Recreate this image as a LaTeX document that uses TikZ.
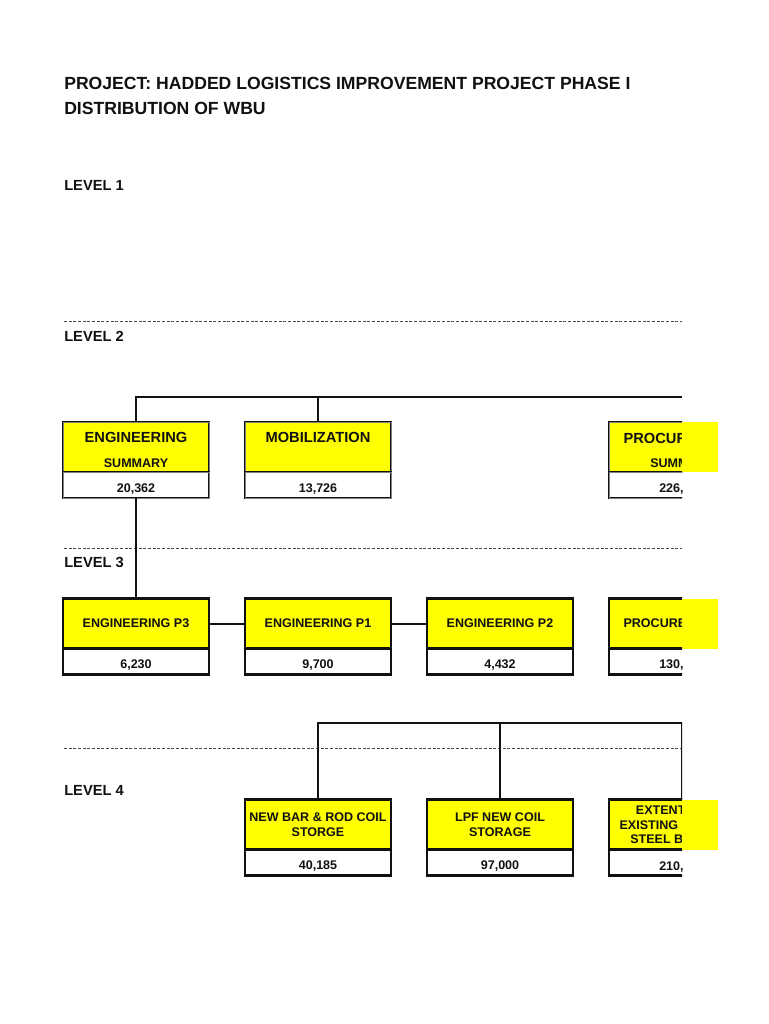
\documentclass[tikz,border=0pt]{standalone}
\usepackage{fontspec}
\setmainfont{Liberation Sans}
\usetikzlibrary{positioning,calc}
\definecolor{ink}{HTML}{111111}
\definecolor{wbuyellow}{HTML}{FFFF00}
\definecolor{rule}{HTML}{4A4A4A}

\begin{document}
\begin{tikzpicture}[x=0.75pt, y=-0.75pt, text=ink,
  ttl/.style={font=\fontsize{13.2}{16}\selectfont\bfseries, anchor=base west, inner sep=0pt},
  lvl/.style={font=\fontsize{11}{13}\selectfont\bfseries, anchor=base west, inner sep=0pt},
  sep/.style={draw=rule, line width=0.55pt, dash pattern=on 2.2pt off 1.3pt},
  link/.style={draw=ink, line width=1.5pt},
  l2box/.style={draw=ink, line width=0.6pt, double=black!50, double distance=0.5pt, outer sep=0pt, inner sep=0pt, minimum width=109.5pt},
  l2top/.style={l2box, fill=wbuyellow, minimum height=37.5pt, align=center, text height=30.6pt, text depth=0pt, font=\fontsize{11}{13}\selectfont\bfseries},
  l2num/.style={l2box, fill=white, minimum height=19.5pt, text height=10.5pt, text depth=0pt, font=\fontsize{9.4}{11}\selectfont\bfseries},
  wbox/.style={draw=ink, line width=1.6pt, outer sep=0pt, inner sep=0pt, minimum width=109.5pt},
  wtop/.style={wbox, fill=wbuyellow, minimum height=37.5pt, align=center, font=\fontsize{9.4}{11.2}\selectfont\bfseries},
  wnum/.style={wbox, fill=white, minimum height=19.5pt, text height=10.5pt, text depth=0pt, font=\fontsize{9.4}{11}\selectfont\bfseries},
  cut/.style={anchor=base west, inner sep=0pt, font=\fontsize{9.4}{11}\selectfont\bfseries},
  bigcut/.style={cut, font=\fontsize{11}{13}\selectfont\bfseries}]
\fill[white] (0,0) rectangle (768,1024);
\coordinate (edge) at (682,0);

\node[ttl] (title) at (64,89.3) {PROJECT: HADDED LOGISTICS IMPROVEMENT PROJECT PHASE I};
\node[ttl] (subtitle) at (64,114.3) {DISTRIBUTION OF WBU};

\node[lvl] (lv1) at (64,190.4) {LEVEL 1};
\node[lvl] (lv2) at (64,341.2) {LEVEL 2};
\node[lvl] (lv3) at (64,567.4) {LEVEL 3};
\node[lvl] (lv4) at (64,795.2) {LEVEL 4};

\draw[sep] (64,321) -- (edge |- 0,321);
\draw[sep] (64,548) -- (edge |- 0,548);
\draw[sep] (64,748) -- (edge |- 0,748);

\begin{scope}
\clip (0,0) rectangle (edge |- 0,1024);
\node[l2top] (eng) at (136,447) {ENGINEERING\\[5.8pt]{\fontsize{9.4}{11}\selectfont SUMMARY}};
\node[l2num, below=0pt of eng] (engn) {20,362};
\node[l2top, right=27pt of eng] (mob) {MOBILIZATION\\[5.8pt]{\fontsize{9.4}{11}\selectfont\phantom{SUMMARY}}};
\node[l2num, below=0pt of mob] (mobn) {13,726};
\node[l2top] (proc) at (682,447) {};
\node[l2num, below=0pt of proc] (procn) {};
\node[bigcut] (proct) at (623.3,443) {PROCUR};
\node[cut] (procs) at (650,467.7) {SUMM};
\node[cut] (procv) at (659,492.4) {226,};

\node[wtop] (p3) at (136,623.5) {ENGINEERING P3};
\node[wnum, below=0pt of p3] (p3n) {6,230};
\node[wtop, right=27pt of p3] (p1) {ENGINEERING P1};
\node[wnum, below=0pt of p1] (p1n) {9,700};
\node[wtop, right=27pt of p1] (p2) {ENGINEERING P2};
\node[wnum, below=0pt of p2] (p2n) {4,432};
\node[wtop, right=27pt of p2] (proc3) {};
\node[wnum, below=0pt of proc3] (proc3n) {};
\node[cut] (proc3t) at (623.3,627.1) {PROCURE};
\node[cut] (proc3v) at (659,668.4) {130,};

\node[wtop] (nbr) at (318,824.5) {NEW BAR \& ROD COIL\\STORGE};
\node[wnum, below=0pt of nbr] (nbrn) {40,185};
\node[wtop, right=27pt of nbr] (lpf) {LPF NEW COIL\\STORAGE};
\node[wnum, below=0pt of lpf] (lpfn) {97,000};
\node[wtop, right=27pt of lpf] (ext) {};
\node[wnum, below=0pt of ext] (extn) {};
\node[cut] (extt1) at (635.7,814.4) {EXTENT};
\node[cut] (extt2) at (619.3,829.1) {EXISTING S};
\node[cut] (extt3) at (630,843.7) {STEEL B};
\node[cut] (extv) at (659,870.4) {210,};

\draw[link] (eng.north) -- ++(0,-25) coordinate (bus2) -- (edge |- bus2);
\draw[link] (mob.north) -- (mob.north |- bus2);
\draw[link] (engn.south) -- (p3.north);
\draw[link] (p3) -- (p1);
\draw[link] (p1) -- (p2);
\coordinate (bus4) at (768,723);
\draw[link] (nbr.north) |- (bus4);
\draw[link] (lpf.north) -- (lpf.north |- bus4);
\draw[link] (ext.north) -- (ext.north |- bus4);
\end{scope}

\fill[wbuyellow] (proc.north) rectangle ($(proc.south)+(35.5,0)$);
\fill[wbuyellow] (proc3.north) rectangle ($(proc3.south)+(35.5,0)$);
\fill[wbuyellow] (ext.north) rectangle ($(ext.south)+(35.5,0)$);
\end{tikzpicture}
\end{document}
